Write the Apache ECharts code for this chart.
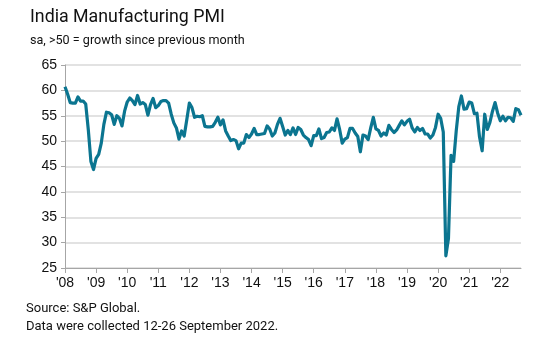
<!DOCTYPE html>
<html>
<head>
<meta charset="utf-8">
<title>India Manufacturing PMI</title>
<script src="https://cdn.jsdelivr.net/npm/echarts@6/dist/echarts.min.js"></script>
<style>
  html, body { margin: 0; padding: 0; background: #fff; }
  #main { width: 549px; height: 342px; }
</style>
</head>
<body>
<div id="main"></div>
<script type="text/javascript">
// years shown on the x axis, one tick per January
var years = ['2008', '2009', '2010', '2011', '2012', '2013', '2014', '2015',
             '2016', '2017', '2018', '2019', '2020', '2021', '2022'];

// monthly PMI, sa (Jan 2008 - Sep 2022)
var pmi = [
  60.7, 59.3, 57.6, 57.5, 57.5, 58.7, 57.9, 57.9, 57.3, 52.2, 46.0, 44.4, // 2008
  46.6, 47.4, 49.6, 53.3, 55.7, 55.6, 55.2, 53.3, 55.0, 54.5, 53.0, 55.9, // 2009
  57.7, 58.5, 58.0, 57.2, 59.0, 57.3, 57.6, 57.2, 55.1, 57.2, 58.4, 56.6, // 2010
  57.0, 57.8, 58.0, 58.0, 57.5, 55.3, 53.6, 52.6, 50.4, 52.0, 51.0, 54.2, // 2011
  57.5, 56.6, 54.7, 54.9, 54.8, 55.0, 52.9, 52.8, 52.8, 52.9, 53.7, 54.7, // 2012
  53.2, 54.2, 52.0, 51.0, 50.1, 50.3, 50.1, 48.5, 49.6, 49.6, 51.3, 50.7, // 2013
  51.4, 52.5, 51.3, 51.3, 51.4, 51.5, 53.0, 52.4, 51.0, 51.6, 53.3, 54.5, // 2014
  52.9, 51.2, 52.1, 51.3, 52.6, 51.3, 52.7, 52.3, 51.2, 50.7, 50.3, 49.1, // 2015
  51.1, 51.1, 52.4, 50.5, 50.7, 51.7, 51.8, 52.6, 52.1, 54.4, 52.3, 49.6, // 2016
  50.4, 50.7, 52.5, 52.5, 51.6, 50.9, 47.9, 51.2, 51.0, 50.3, 52.6, 54.7, // 2017
  52.4, 52.1, 51.0, 51.6, 51.2, 53.1, 52.3, 51.7, 52.2, 53.1, 54.0, 53.2, // 2018
  53.9, 54.3, 52.6, 51.8, 52.7, 52.1, 52.5, 51.4, 51.4, 50.6, 51.2, 52.7, // 2019
  55.3, 54.5, 51.8, 27.4, 30.8, 47.2, 46.0, 52.0, 56.8, 58.9, 56.3, 56.4, // 2020
  57.7, 57.5, 55.4, 55.5, 50.8, 48.1, 55.3, 52.3, 53.7, 55.9, 57.6, 55.5, // 2021
  54.0, 54.9, 54.0, 54.7, 54.6, 53.9, 56.4, 56.2, 55.1                    // 2022
];

var yTicks = { min: 25, max: 65, step: 5 };

// one category per month
var months = [];
for (var i = 0; i < pmi.length; i++) {
  var y = years[0] * 1 + Math.floor(i / 12);
  var m = (i % 12) + 1;
  months.push(y + '-' + (m < 10 ? '0' + m : m));
}

var chart = echarts.init(document.getElementById('main'), null, { renderer: 'canvas' });

var isJan = function (idx) { return idx % 12 === 0; };

var option = {
  animation: false,
  backgroundColor: '#ffffff',
  textStyle: { fontFamily: 'Liberation Sans' },
  title: [
    {
      text: 'India Manufacturing PMI',
      left: 25, top: 4,
      textStyle: { fontFamily: 'Roboto', fontWeight: 'normal', fontSize: 17.8, color: '#111111' }
    },
    {
      text: 'sa, >50 = growth since previous month',
      left: 25, top: 29,
      textStyle: { fontFamily: 'Roboto', fontWeight: 'normal', fontSize: 12.6, color: '#111111' }
    }
  ],
  graphic: [
    {
      type: 'text', left: 26, top: 302,
      style: { text: 'Source: S&P Global.', font: '13px Roboto', fill: '#111111' }
    },
    {
      type: 'text', left: 26, top: 320,
      style: { text: 'Data were collected 12-26 September 2022.', font: '13px Roboto', fill: '#111111' }
    }
  ],
  grid: { left: 65, right: 28, top: 65, bottom: 74, containLabel: false },
  xAxis: {
    type: 'category',
    data: months,
    boundaryGap: false,
    axisLine: { lineStyle: { color: '#a6a6a6', width: 1 } },
    axisTick: { interval: function (idx) { return isJan(idx); }, length: 5, lineStyle: { color: '#a6a6a6' } },
    axisLabel: {
      interval: function (idx) { return isJan(idx); },
      formatter: function (v) { return "'" + v.slice(2, 4); },
      fontSize: 14, color: '#111111', margin: 8
    },
    splitLine: { show: false }
  },
  yAxis: {
    type: 'value',
    min: yTicks.min, max: yTicks.max, interval: yTicks.step,
    axisLine: { show: true, lineStyle: { color: '#a6a6a6', width: 1 } },
    axisTick: { show: true, length: 4, lineStyle: { color: '#a6a6a6' } },
    axisLabel: { fontSize: 14, color: '#111111', margin: 8 },
    splitLine: { lineStyle: { color: '#d9d9d9', width: 1.5 } }
  },
  series: [{
    name: 'India Manufacturing PMI',
    type: 'line',
    data: pmi,
    showSymbol: false,
    symbol: 'none',
    lineStyle: { color: '#0b7590', width: 3.2, join: 'round' },
    itemStyle: { color: '#0b7590' }
  }]
};

chart.setOption(option);
</script>
</body>
</html>
